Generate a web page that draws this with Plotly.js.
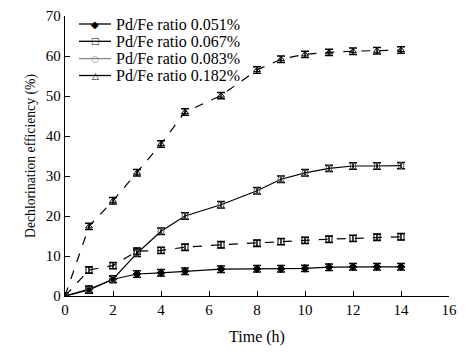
<!DOCTYPE html>
<html>
<head>
<meta charset="utf-8">
<script src="https://cdn.plot.ly/plotly-3.0.1.min.js"></script>
<style>html,body{margin:0;padding:0;background:#fff;}#chart{width:474px;height:354px;}</style>
</head>
<body>
<div id="chart"></div>
<script>
const time = [0, 1, 2, 3, 4, 5, 6.5, 8, 9, 10, 11, 12, 13, 14];
const seriesNames = ["Pd/Fe ratio 0.051%", "Pd/Fe ratio 0.067%", "Pd/Fe ratio 0.083%", "Pd/Fe ratio 0.182%"];
const eff051 = [0, 1.7, 4.2, 5.5, 5.8, 6.2, 6.7, 6.8, 6.8, 6.9, 7.2, 7.3, 7.3, 7.3];
const eff067 = [0, 6.5, 7.6, 11.2, 11.4, 12.2, 12.8, 13.2, 13.6, 13.9, 14.2, 14.4, 14.7, 14.8];
const eff083 = [0, 1.5, 4.2, 10.7, 16.2, 20.0, 22.8, 26.3, 29.2, 30.8, 31.9, 32.5, 32.5, 32.6];
const eff182 = [0, 17.4, 23.8, 30.8, 38.0, 46.0, 50.1, 56.5, 59.2, 60.4, 60.9, 61.2, 61.3, 61.5];
const errs = [0, 0.8, 0.8, 0.8, 0.8, 0.8, 0.8, 0.8, 0.8, 0.8, 0.8, 0.8, 0.8, 0.8];
const legendGlyphs = ["\u25C6", "\u25A1", "\u25CB", "\u25B3"];

const values = [eff051, eff067, eff083, eff182];
const styles = [
  {dash: "solid", color: "#000", symbol: "diamond", mcolor: "#000", lw: 1.2, legColor: "#000"},
  {dash: "dash", color: "#000", symbol: "square-open", mcolor: "#000", lw: 1.2, legColor: "#000"},
  {dash: "solid", color: "#000", symbol: "circle-open", mcolor: "#555", lw: 1.2, legColor: "#888"},
  {dash: "dash", color: "#000", symbol: "triangle-up-open", mcolor: "#000", lw: 1.2, legColor: "#000"}
];

const traces = values.map((v, i) => ({
  x: time, y: v, name: seriesNames[i], type: "scatter", mode: "lines+markers",
  line: {color: styles[i].color, width: styles[i].lw, dash: styles[i].dash},
  marker: {symbol: styles[i].symbol, size: 6, color: styles[i].mcolor, line: {color: styles[i].mcolor, width: 1}},
  error_y: {type: "data", array: errs, visible: true, color: "#000", thickness: 1.5, width: 4},
  showlegend: false
}));

// manual legend (tight row spacing like the reference)
const W = 474, H = 354, mL = 65, mR = 25, mT = 16, mB = 58;
const pw = W - mL - mR, ph = H - mT - mB;
const px = v => (v - mL) / pw;
const py = v => (H - mB - v) / ph;
const rowY = [24, 41.3, 58.6, 75.5];
const shapes = [], annotations = [];
seriesNames.forEach((n, i) => {
  shapes.push({type: "line", xref: "paper", yref: "paper", x0: px(79), x1: px(111), y0: py(rowY[i]), y1: py(rowY[i]),
               line: {color: styles[i].legColor, width: 1.3}});
  annotations.push({xref: "paper", yref: "paper", x: px(95), y: py(rowY[i]), text: legendGlyphs[i], showarrow: false,
                    xanchor: "center", yanchor: "middle", font: {family: "DejaVu Sans", size: i === 0 ? 10 : 9, color: styles[i].legColor},
                    borderpad: 0});
  annotations.push({xref: "paper", yref: "paper", x: px(114), y: py(rowY[i]), text: n, showarrow: false,
                    xanchor: "left", yanchor: "middle", font: {family: "Liberation Serif, serif", size: 16, color: "#000"}});
});

const layout = {
  width: W, height: H,
  margin: {l: mL, r: mR, t: mT, b: mB},
  paper_bgcolor: "#fff", plot_bgcolor: "#fff",
  font: {family: "Liberation Serif, Times New Roman, serif", color: "#000", size: 15},
  showlegend: false,
  shapes: shapes, annotations: annotations,
  xaxis: {
    range: [0, 16], dtick: 2, tick0: 0, showgrid: false, zeroline: false,
    showline: true, linecolor: "#000", linewidth: 1.2, ticks: "inside", ticklen: 5, tickcolor: "#000",
    tickfont: {size: 15}, title: {text: "Time (h)", font: {size: 16}, standoff: 13}
  },
  yaxis: {
    range: [0, 70], dtick: 10, tick0: 0, showgrid: false, zeroline: false,
    showline: true, linecolor: "#000", linewidth: 1.2, ticks: "inside", ticklen: 5, tickcolor: "#000",
    tickfont: {size: 15}, title: {text: "Dechlorination efficiency (%)", font: {size: 13.7}, standoff: 7}
  }
};

Plotly.newPlot("chart", traces, layout, {displayModeBar: false, staticPlot: true});
</script>
</body>
</html>
